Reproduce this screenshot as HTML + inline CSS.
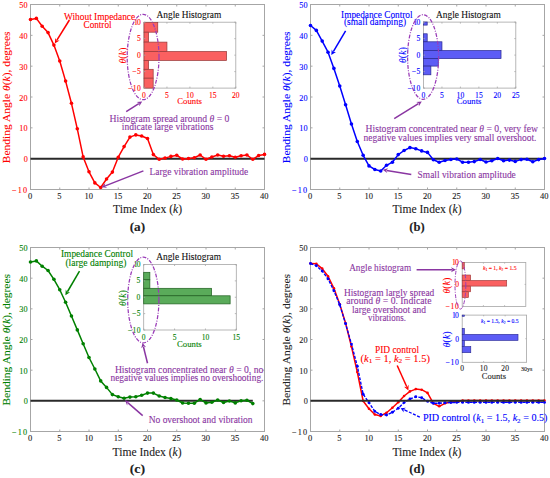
<!DOCTYPE html><html><head><meta charset="utf-8"><style>html,body{margin:0;padding:0;background:#fff;width:550px;height:478px;overflow:hidden}</style></head><body><svg width="550" height="478" viewBox="0 0 550 478" style="position:absolute;left:0;top:0" font-family='"Liberation Serif", serif'>
<rect width="550" height="478" fill="#fff"/>
<rect x="30.5" y="4.5" width="234.00" height="185.00" fill="none" stroke="#a6a6a6" stroke-width="1"/>
<line x1="30.50" y1="189.5" x2="30.50" y2="187.5" stroke="#a6a6a6" stroke-width="1"/>
<line x1="30.50" y1="4.5" x2="30.50" y2="6.5" stroke="#a6a6a6" stroke-width="1"/>
<text x="30.20" y="198.90" font-size="8.5" fill="#222222" stroke="#222222" stroke-width="0.1" text-anchor="middle">0</text>
<line x1="59.75" y1="189.5" x2="59.75" y2="187.5" stroke="#a6a6a6" stroke-width="1"/>
<line x1="59.75" y1="4.5" x2="59.75" y2="6.5" stroke="#a6a6a6" stroke-width="1"/>
<text x="59.45" y="198.90" font-size="8.5" fill="#222222" stroke="#222222" stroke-width="0.1" text-anchor="middle">5</text>
<line x1="89.00" y1="189.5" x2="89.00" y2="187.5" stroke="#a6a6a6" stroke-width="1"/>
<line x1="89.00" y1="4.5" x2="89.00" y2="6.5" stroke="#a6a6a6" stroke-width="1"/>
<text x="88.70" y="198.90" font-size="8.5" fill="#222222" stroke="#222222" stroke-width="0.1" text-anchor="middle">10</text>
<line x1="118.25" y1="189.5" x2="118.25" y2="187.5" stroke="#a6a6a6" stroke-width="1"/>
<line x1="118.25" y1="4.5" x2="118.25" y2="6.5" stroke="#a6a6a6" stroke-width="1"/>
<text x="117.95" y="198.90" font-size="8.5" fill="#222222" stroke="#222222" stroke-width="0.1" text-anchor="middle">15</text>
<line x1="147.50" y1="189.5" x2="147.50" y2="187.5" stroke="#a6a6a6" stroke-width="1"/>
<line x1="147.50" y1="4.5" x2="147.50" y2="6.5" stroke="#a6a6a6" stroke-width="1"/>
<text x="147.20" y="198.90" font-size="8.5" fill="#222222" stroke="#222222" stroke-width="0.1" text-anchor="middle">20</text>
<line x1="176.75" y1="189.5" x2="176.75" y2="187.5" stroke="#a6a6a6" stroke-width="1"/>
<line x1="176.75" y1="4.5" x2="176.75" y2="6.5" stroke="#a6a6a6" stroke-width="1"/>
<text x="176.45" y="198.90" font-size="8.5" fill="#222222" stroke="#222222" stroke-width="0.1" text-anchor="middle">25</text>
<line x1="206.00" y1="189.5" x2="206.00" y2="187.5" stroke="#a6a6a6" stroke-width="1"/>
<line x1="206.00" y1="4.5" x2="206.00" y2="6.5" stroke="#a6a6a6" stroke-width="1"/>
<text x="205.70" y="198.90" font-size="8.5" fill="#222222" stroke="#222222" stroke-width="0.1" text-anchor="middle">30</text>
<line x1="235.25" y1="189.5" x2="235.25" y2="187.5" stroke="#a6a6a6" stroke-width="1"/>
<line x1="235.25" y1="4.5" x2="235.25" y2="6.5" stroke="#a6a6a6" stroke-width="1"/>
<text x="234.95" y="198.90" font-size="8.5" fill="#222222" stroke="#222222" stroke-width="0.1" text-anchor="middle">35</text>
<line x1="264.50" y1="189.5" x2="264.50" y2="187.5" stroke="#a6a6a6" stroke-width="1"/>
<line x1="264.50" y1="4.5" x2="264.50" y2="6.5" stroke="#a6a6a6" stroke-width="1"/>
<text x="264.20" y="198.90" font-size="8.5" fill="#222222" stroke="#222222" stroke-width="0.1" text-anchor="middle">40</text>
<line x1="30.5" y1="189.50" x2="32.5" y2="189.50" stroke="#a6a6a6" stroke-width="1"/>
<line x1="264.5" y1="189.50" x2="262.5" y2="189.50" stroke="#a6a6a6" stroke-width="1"/>
<text x="12.10" y="193.00" font-size="8.2" fill="#ff0000" stroke="#ff0000" stroke-width="0.1" textLength="15" lengthAdjust="spacing">−10</text>
<line x1="30.5" y1="158.67" x2="32.5" y2="158.67" stroke="#a6a6a6" stroke-width="1"/>
<line x1="264.5" y1="158.67" x2="262.5" y2="158.67" stroke="#a6a6a6" stroke-width="1"/>
<text x="23.70" y="162.17" font-size="8.2" fill="#ff0000" stroke="#ff0000" stroke-width="0.1" textLength="4.4" lengthAdjust="spacing">0</text>
<line x1="30.5" y1="127.83" x2="32.5" y2="127.83" stroke="#a6a6a6" stroke-width="1"/>
<line x1="264.5" y1="127.83" x2="262.5" y2="127.83" stroke="#a6a6a6" stroke-width="1"/>
<text x="19.30" y="131.33" font-size="8.2" fill="#ff0000" stroke="#ff0000" stroke-width="0.1" textLength="8.2" lengthAdjust="spacing">10</text>
<line x1="30.5" y1="97.00" x2="32.5" y2="97.00" stroke="#a6a6a6" stroke-width="1"/>
<line x1="264.5" y1="97.00" x2="262.5" y2="97.00" stroke="#a6a6a6" stroke-width="1"/>
<text x="19.30" y="100.50" font-size="8.2" fill="#ff0000" stroke="#ff0000" stroke-width="0.1" textLength="8.2" lengthAdjust="spacing">20</text>
<line x1="30.5" y1="66.17" x2="32.5" y2="66.17" stroke="#a6a6a6" stroke-width="1"/>
<line x1="264.5" y1="66.17" x2="262.5" y2="66.17" stroke="#a6a6a6" stroke-width="1"/>
<text x="19.30" y="69.67" font-size="8.2" fill="#ff0000" stroke="#ff0000" stroke-width="0.1" textLength="8.2" lengthAdjust="spacing">30</text>
<line x1="30.5" y1="35.33" x2="32.5" y2="35.33" stroke="#a6a6a6" stroke-width="1"/>
<line x1="264.5" y1="35.33" x2="262.5" y2="35.33" stroke="#a6a6a6" stroke-width="1"/>
<text x="19.30" y="38.83" font-size="8.2" fill="#ff0000" stroke="#ff0000" stroke-width="0.1" textLength="8.2" lengthAdjust="spacing">40</text>
<line x1="30.5" y1="4.50" x2="32.5" y2="4.50" stroke="#a6a6a6" stroke-width="1"/>
<line x1="264.5" y1="4.50" x2="262.5" y2="4.50" stroke="#a6a6a6" stroke-width="1"/>
<text x="19.30" y="8.00" font-size="8.2" fill="#ff0000" stroke="#ff0000" stroke-width="0.1" textLength="8.2" lengthAdjust="spacing">50</text>
<line x1="30.5" y1="158.85" x2="264.50" y2="158.85" stroke="#2a2a2a" stroke-width="2"/>
<polyline points="30.50,19.50 36.35,18.40 42.20,26.20 48.05,32.60 53.90,45.10 59.75,61.00 65.60,81.10 71.45,103.30 77.30,128.80 83.15,156.90 89.00,171.80 94.85,182.90 100.70,187.50 106.55,179.00 112.40,172.10 118.25,157.20 124.10,146.60 129.95,137.10 135.80,134.90 141.65,136.00 147.50,138.50 153.35,154.60 159.20,159.30 165.05,158.10 170.90,156.40 176.75,155.30 182.60,159.00 188.45,158.50 194.30,157.70 200.15,155.00 206.00,159.30 211.85,157.00 217.70,155.00 223.55,156.20 229.40,155.80 235.25,157.30 241.10,155.80 246.95,155.00 252.80,159.30 258.65,155.50 264.50,154.40" fill="none" stroke="#ff0000" stroke-width="1.5" stroke-linejoin="round"/>
<circle cx="30.50" cy="19.50" r="1.8" fill="#ff0000"/>
<circle cx="36.35" cy="18.40" r="1.8" fill="#ff0000"/>
<circle cx="42.20" cy="26.20" r="1.8" fill="#ff0000"/>
<circle cx="48.05" cy="32.60" r="1.8" fill="#ff0000"/>
<circle cx="53.90" cy="45.10" r="1.8" fill="#ff0000"/>
<circle cx="59.75" cy="61.00" r="1.8" fill="#ff0000"/>
<circle cx="65.60" cy="81.10" r="1.8" fill="#ff0000"/>
<circle cx="71.45" cy="103.30" r="1.8" fill="#ff0000"/>
<circle cx="77.30" cy="128.80" r="1.8" fill="#ff0000"/>
<circle cx="83.15" cy="156.90" r="1.8" fill="#ff0000"/>
<circle cx="89.00" cy="171.80" r="1.8" fill="#ff0000"/>
<circle cx="94.85" cy="182.90" r="1.8" fill="#ff0000"/>
<circle cx="100.70" cy="187.50" r="1.8" fill="#ff0000"/>
<circle cx="106.55" cy="179.00" r="1.8" fill="#ff0000"/>
<circle cx="112.40" cy="172.10" r="1.8" fill="#ff0000"/>
<circle cx="118.25" cy="157.20" r="1.8" fill="#ff0000"/>
<circle cx="124.10" cy="146.60" r="1.8" fill="#ff0000"/>
<circle cx="129.95" cy="137.10" r="1.8" fill="#ff0000"/>
<circle cx="135.80" cy="134.90" r="1.8" fill="#ff0000"/>
<circle cx="141.65" cy="136.00" r="1.8" fill="#ff0000"/>
<circle cx="147.50" cy="138.50" r="1.8" fill="#ff0000"/>
<circle cx="153.35" cy="154.60" r="1.8" fill="#ff0000"/>
<circle cx="159.20" cy="159.30" r="1.8" fill="#ff0000"/>
<circle cx="165.05" cy="158.10" r="1.8" fill="#ff0000"/>
<circle cx="170.90" cy="156.40" r="1.8" fill="#ff0000"/>
<circle cx="176.75" cy="155.30" r="1.8" fill="#ff0000"/>
<circle cx="182.60" cy="159.00" r="1.8" fill="#ff0000"/>
<circle cx="188.45" cy="158.50" r="1.8" fill="#ff0000"/>
<circle cx="194.30" cy="157.70" r="1.8" fill="#ff0000"/>
<circle cx="200.15" cy="155.00" r="1.8" fill="#ff0000"/>
<circle cx="206.00" cy="159.30" r="1.8" fill="#ff0000"/>
<circle cx="211.85" cy="157.00" r="1.8" fill="#ff0000"/>
<circle cx="217.70" cy="155.00" r="1.8" fill="#ff0000"/>
<circle cx="223.55" cy="156.20" r="1.8" fill="#ff0000"/>
<circle cx="229.40" cy="155.80" r="1.8" fill="#ff0000"/>
<circle cx="235.25" cy="157.30" r="1.8" fill="#ff0000"/>
<circle cx="241.10" cy="155.80" r="1.8" fill="#ff0000"/>
<circle cx="246.95" cy="155.00" r="1.8" fill="#ff0000"/>
<circle cx="252.80" cy="159.30" r="1.8" fill="#ff0000"/>
<circle cx="258.65" cy="155.50" r="1.8" fill="#ff0000"/>
<circle cx="264.50" cy="154.40" r="1.8" fill="#ff0000"/>
<text transform="translate(9.8,163.2) rotate(-90)" font-size="11.4" fill="#ff0000" stroke="#ff0000" stroke-width="0.1" textLength="131.70" lengthAdjust="spacing">Bending Angle <tspan font-style="italic">θ</tspan>(<tspan font-style="italic">k</tspan>), degrees</text>
<text x="113.00" y="213.20" font-size="12" fill="#222222" stroke="#222222" stroke-width="0.1" textLength="69.00" lengthAdjust="spacingAndGlyphs">Time Index (<tspan font-style="italic">k</tspan>)</text>
<text x="129.70" y="230.80" font-size="13.2" fill="#222222" stroke="#222222" stroke-width="0.1" textLength="15.50" lengthAdjust="spacingAndGlyphs" font-weight="bold">(a)</text>
<rect x="144.0" y="22.2" width="91.80" height="65.90" fill="#fff" stroke="#a6a6a6" stroke-width="0.8"/>
<rect x="144.0" y="22.5" width="13.77" height="9.70" fill="#fa6060" stroke="#963838" stroke-width="0.7"/>
<rect x="144.0" y="32.2" width="4.59" height="9.90" fill="#fa6060" stroke="#963838" stroke-width="0.7"/>
<rect x="144.0" y="42.1" width="22.95" height="9.40" fill="#fa6060" stroke="#963838" stroke-width="0.7"/>
<rect x="144.0" y="51.5" width="82.62" height="9.00" fill="#fa6060" stroke="#963838" stroke-width="0.7"/>
<rect x="144.0" y="60.5" width="4.59" height="8.80" fill="#fa6060" stroke="#963838" stroke-width="0.7"/>
<rect x="144.0" y="69.3" width="9.18" height="8.90" fill="#fa6060" stroke="#963838" stroke-width="0.7"/>
<rect x="144.0" y="78.2" width="9.18" height="9.90" fill="#fa6060" stroke="#963838" stroke-width="0.7"/>
<line x1="144.00" y1="88.1" x2="144.00" y2="86.6" stroke="#a6a6a6" stroke-width="0.8"/>
<line x1="144.00" y1="22.2" x2="144.00" y2="23.7" stroke="#a6a6a6" stroke-width="0.8"/>
<text x="144.00" y="97.5" font-size="7.6" fill="#ff0000" stroke="#ff0000" stroke-width="0.1" text-anchor="middle">0</text>
<line x1="166.95" y1="88.1" x2="166.95" y2="86.6" stroke="#a6a6a6" stroke-width="0.8"/>
<line x1="166.95" y1="22.2" x2="166.95" y2="23.7" stroke="#a6a6a6" stroke-width="0.8"/>
<text x="166.95" y="97.5" font-size="7.6" fill="#ff0000" stroke="#ff0000" stroke-width="0.1" text-anchor="middle">5</text>
<line x1="189.90" y1="88.1" x2="189.90" y2="86.6" stroke="#a6a6a6" stroke-width="0.8"/>
<line x1="189.90" y1="22.2" x2="189.90" y2="23.7" stroke="#a6a6a6" stroke-width="0.8"/>
<text x="189.90" y="97.5" font-size="7.6" fill="#ff0000" stroke="#ff0000" stroke-width="0.1" text-anchor="middle">10</text>
<line x1="212.85" y1="88.1" x2="212.85" y2="86.6" stroke="#a6a6a6" stroke-width="0.8"/>
<line x1="212.85" y1="22.2" x2="212.85" y2="23.7" stroke="#a6a6a6" stroke-width="0.8"/>
<text x="212.85" y="97.5" font-size="7.6" fill="#ff0000" stroke="#ff0000" stroke-width="0.1" text-anchor="middle">15</text>
<line x1="235.80" y1="88.1" x2="235.80" y2="86.6" stroke="#a6a6a6" stroke-width="0.8"/>
<line x1="235.80" y1="22.2" x2="235.80" y2="23.7" stroke="#a6a6a6" stroke-width="0.8"/>
<text x="235.80" y="97.5" font-size="7.6" fill="#ff0000" stroke="#ff0000" stroke-width="0.1" text-anchor="middle">20</text>
<line x1="235.8" y1="22.20" x2="234.3" y2="22.20" stroke="#a6a6a6" stroke-width="0.8"/>
<line x1="144.0" y1="22.20" x2="145.5" y2="22.20" stroke="#a6a6a6" stroke-width="0.8"/>
<text x="134.00" y="24.80" font-size="7.6" fill="#ff0000" stroke="#ff0000" stroke-width="0.1" textLength="6.8" lengthAdjust="spacing">10</text>
<line x1="235.8" y1="38.67" x2="234.3" y2="38.67" stroke="#a6a6a6" stroke-width="0.8"/>
<line x1="144.0" y1="38.67" x2="145.5" y2="38.67" stroke="#a6a6a6" stroke-width="0.8"/>
<text x="136.90" y="41.27" font-size="7.6" fill="#ff0000" stroke="#ff0000" stroke-width="0.1" textLength="3.9" lengthAdjust="spacing">5</text>
<line x1="235.8" y1="55.15" x2="234.3" y2="55.15" stroke="#a6a6a6" stroke-width="0.8"/>
<line x1="144.0" y1="55.15" x2="145.5" y2="55.15" stroke="#a6a6a6" stroke-width="0.8"/>
<text x="136.90" y="57.75" font-size="7.6" fill="#ff0000" stroke="#ff0000" stroke-width="0.1" textLength="3.9" lengthAdjust="spacing">0</text>
<line x1="235.8" y1="71.62" x2="234.3" y2="71.62" stroke="#a6a6a6" stroke-width="0.8"/>
<line x1="144.0" y1="71.62" x2="145.5" y2="71.62" stroke="#a6a6a6" stroke-width="0.8"/>
<text x="132.20" y="74.22" font-size="7.6" fill="#ff0000" stroke="#ff0000" stroke-width="0.1" textLength="8.6" lengthAdjust="spacing">−5</text>
<line x1="235.8" y1="88.10" x2="234.3" y2="88.10" stroke="#a6a6a6" stroke-width="0.8"/>
<line x1="144.0" y1="88.10" x2="145.5" y2="88.10" stroke="#a6a6a6" stroke-width="0.8"/>
<text x="128.00" y="90.70" font-size="7.6" fill="#ff0000" stroke="#ff0000" stroke-width="0.1" textLength="12.8" lengthAdjust="spacing">−10</text>
<text transform="translate(126.2,63.6) rotate(-90)" font-size="9.5" fill="#ff0000" stroke="#ff0000" stroke-width="0.1" text-anchor="start" textLength="16" lengthAdjust="spacing"><tspan font-style="italic">θ</tspan>(<tspan font-style="italic">k</tspan>)</text>
<text x="156.50" y="18.20" font-size="9.6" fill="#111" stroke="#111" stroke-width="0.1" textLength="64.80" lengthAdjust="spacingAndGlyphs">Angle Histogram</text>
<text x="177.30" y="104.20" font-size="9.2" fill="#ff0000" stroke="#ff0000" stroke-width="0.1" textLength="24.70" lengthAdjust="spacingAndGlyphs">Counts</text>
<ellipse cx="143.1" cy="57" rx="15.9" ry="42.7" fill="none" stroke="#9a3cb8" stroke-width="1.25" stroke-dasharray="3.8,1.4,1,1.4"/>
<text x="64.00" y="20.10" font-size="9.3" fill="#ff0000" stroke="#ff0000" stroke-width="0.1" textLength="71.20" lengthAdjust="spacingAndGlyphs">Wihout Impedance</text>
<text x="83.60" y="28.30" font-size="9.3" fill="#ff0000" stroke="#ff0000" stroke-width="0.1" textLength="27.90" lengthAdjust="spacingAndGlyphs">Control</text>
<line x1="69.40" y1="20.00" x2="56.91" y2="40.10" stroke="#ff0000" stroke-width="1.5"/>
<polygon points="54.80,43.50 55.32,37.93 56.65,40.53 59.56,40.57" fill="#ff0000"/>
<text x="109.50" y="121.50" font-size="9.3" fill="#8a36a2" stroke="#8a36a2" stroke-width="0.1" textLength="119.90" lengthAdjust="spacingAndGlyphs">Histogram spread around <tspan font-style="italic">θ</tspan> = 0</text>
<text x="121.80" y="129.50" font-size="9.3" fill="#8a36a2" stroke="#8a36a2" stroke-width="0.1" textLength="91.60" lengthAdjust="spacingAndGlyphs">indicate large vibrations</text>
<line x1="126.20" y1="111.60" x2="138.82" y2="103.64" stroke="#8a36a2" stroke-width="1.5"/>
<polygon points="142.20,101.50 139.31,106.28 139.24,103.37 136.64,102.05" fill="#8a36a2"/>
<text x="149.50" y="174.90" font-size="9.3" fill="#8a36a2" stroke="#8a36a2" stroke-width="0.1" textLength="98.70" lengthAdjust="spacingAndGlyphs">Large vibration amplitude</text>
<line x1="143.40" y1="170.90" x2="105.22" y2="185.84" stroke="#8a36a2" stroke-width="1.5"/>
<polygon points="101.50,187.30 105.24,183.15 104.76,186.02 107.07,187.81" fill="#8a36a2"/>
<rect x="310.5" y="4.5" width="234.00" height="185.00" fill="none" stroke="#a6a6a6" stroke-width="1"/>
<line x1="310.50" y1="189.5" x2="310.50" y2="187.5" stroke="#a6a6a6" stroke-width="1"/>
<line x1="310.50" y1="4.5" x2="310.50" y2="6.5" stroke="#a6a6a6" stroke-width="1"/>
<text x="310.20" y="198.90" font-size="8.5" fill="#222222" stroke="#222222" stroke-width="0.1" text-anchor="middle">0</text>
<line x1="339.75" y1="189.5" x2="339.75" y2="187.5" stroke="#a6a6a6" stroke-width="1"/>
<line x1="339.75" y1="4.5" x2="339.75" y2="6.5" stroke="#a6a6a6" stroke-width="1"/>
<text x="339.45" y="198.90" font-size="8.5" fill="#222222" stroke="#222222" stroke-width="0.1" text-anchor="middle">5</text>
<line x1="369.00" y1="189.5" x2="369.00" y2="187.5" stroke="#a6a6a6" stroke-width="1"/>
<line x1="369.00" y1="4.5" x2="369.00" y2="6.5" stroke="#a6a6a6" stroke-width="1"/>
<text x="368.70" y="198.90" font-size="8.5" fill="#222222" stroke="#222222" stroke-width="0.1" text-anchor="middle">10</text>
<line x1="398.25" y1="189.5" x2="398.25" y2="187.5" stroke="#a6a6a6" stroke-width="1"/>
<line x1="398.25" y1="4.5" x2="398.25" y2="6.5" stroke="#a6a6a6" stroke-width="1"/>
<text x="397.95" y="198.90" font-size="8.5" fill="#222222" stroke="#222222" stroke-width="0.1" text-anchor="middle">15</text>
<line x1="427.50" y1="189.5" x2="427.50" y2="187.5" stroke="#a6a6a6" stroke-width="1"/>
<line x1="427.50" y1="4.5" x2="427.50" y2="6.5" stroke="#a6a6a6" stroke-width="1"/>
<text x="427.20" y="198.90" font-size="8.5" fill="#222222" stroke="#222222" stroke-width="0.1" text-anchor="middle">20</text>
<line x1="456.75" y1="189.5" x2="456.75" y2="187.5" stroke="#a6a6a6" stroke-width="1"/>
<line x1="456.75" y1="4.5" x2="456.75" y2="6.5" stroke="#a6a6a6" stroke-width="1"/>
<text x="456.45" y="198.90" font-size="8.5" fill="#222222" stroke="#222222" stroke-width="0.1" text-anchor="middle">25</text>
<line x1="486.00" y1="189.5" x2="486.00" y2="187.5" stroke="#a6a6a6" stroke-width="1"/>
<line x1="486.00" y1="4.5" x2="486.00" y2="6.5" stroke="#a6a6a6" stroke-width="1"/>
<text x="485.70" y="198.90" font-size="8.5" fill="#222222" stroke="#222222" stroke-width="0.1" text-anchor="middle">30</text>
<line x1="515.25" y1="189.5" x2="515.25" y2="187.5" stroke="#a6a6a6" stroke-width="1"/>
<line x1="515.25" y1="4.5" x2="515.25" y2="6.5" stroke="#a6a6a6" stroke-width="1"/>
<text x="514.95" y="198.90" font-size="8.5" fill="#222222" stroke="#222222" stroke-width="0.1" text-anchor="middle">35</text>
<line x1="544.50" y1="189.5" x2="544.50" y2="187.5" stroke="#a6a6a6" stroke-width="1"/>
<line x1="544.50" y1="4.5" x2="544.50" y2="6.5" stroke="#a6a6a6" stroke-width="1"/>
<text x="544.20" y="198.90" font-size="8.5" fill="#222222" stroke="#222222" stroke-width="0.1" text-anchor="middle">40</text>
<line x1="310.5" y1="189.50" x2="312.5" y2="189.50" stroke="#a6a6a6" stroke-width="1"/>
<line x1="544.5" y1="189.50" x2="542.5" y2="189.50" stroke="#a6a6a6" stroke-width="1"/>
<text x="292.10" y="193.00" font-size="8.2" fill="#0000ff" stroke="#0000ff" stroke-width="0.1" textLength="15" lengthAdjust="spacing">−10</text>
<line x1="310.5" y1="158.67" x2="312.5" y2="158.67" stroke="#a6a6a6" stroke-width="1"/>
<line x1="544.5" y1="158.67" x2="542.5" y2="158.67" stroke="#a6a6a6" stroke-width="1"/>
<text x="303.70" y="162.17" font-size="8.2" fill="#0000ff" stroke="#0000ff" stroke-width="0.1" textLength="4.4" lengthAdjust="spacing">0</text>
<line x1="310.5" y1="127.83" x2="312.5" y2="127.83" stroke="#a6a6a6" stroke-width="1"/>
<line x1="544.5" y1="127.83" x2="542.5" y2="127.83" stroke="#a6a6a6" stroke-width="1"/>
<text x="299.30" y="131.33" font-size="8.2" fill="#0000ff" stroke="#0000ff" stroke-width="0.1" textLength="8.2" lengthAdjust="spacing">10</text>
<line x1="310.5" y1="97.00" x2="312.5" y2="97.00" stroke="#a6a6a6" stroke-width="1"/>
<line x1="544.5" y1="97.00" x2="542.5" y2="97.00" stroke="#a6a6a6" stroke-width="1"/>
<text x="299.30" y="100.50" font-size="8.2" fill="#0000ff" stroke="#0000ff" stroke-width="0.1" textLength="8.2" lengthAdjust="spacing">20</text>
<line x1="310.5" y1="66.17" x2="312.5" y2="66.17" stroke="#a6a6a6" stroke-width="1"/>
<line x1="544.5" y1="66.17" x2="542.5" y2="66.17" stroke="#a6a6a6" stroke-width="1"/>
<text x="299.30" y="69.67" font-size="8.2" fill="#0000ff" stroke="#0000ff" stroke-width="0.1" textLength="8.2" lengthAdjust="spacing">30</text>
<line x1="310.5" y1="35.33" x2="312.5" y2="35.33" stroke="#a6a6a6" stroke-width="1"/>
<line x1="544.5" y1="35.33" x2="542.5" y2="35.33" stroke="#a6a6a6" stroke-width="1"/>
<text x="299.30" y="38.83" font-size="8.2" fill="#0000ff" stroke="#0000ff" stroke-width="0.1" textLength="8.2" lengthAdjust="spacing">40</text>
<line x1="310.5" y1="4.50" x2="312.5" y2="4.50" stroke="#a6a6a6" stroke-width="1"/>
<line x1="544.5" y1="4.50" x2="542.5" y2="4.50" stroke="#a6a6a6" stroke-width="1"/>
<text x="299.30" y="8.00" font-size="8.2" fill="#0000ff" stroke="#0000ff" stroke-width="0.1" textLength="8.2" lengthAdjust="spacing">50</text>
<line x1="310.5" y1="158.85" x2="544.50" y2="158.85" stroke="#2a2a2a" stroke-width="2"/>
<polyline points="310.50,25.50 316.35,30.40 322.20,41.10 328.05,52.20 333.90,68.40 339.75,86.00 345.60,104.70 351.45,124.00 357.30,141.50 363.15,155.30 369.00,165.90 374.85,169.50 380.70,171.00 386.55,165.30 392.40,162.20 398.25,154.60 404.10,150.50 409.95,147.60 415.80,148.70 421.65,150.90 427.50,152.40 433.35,159.80 439.20,162.20 445.05,160.50 450.90,159.50 456.75,159.00 462.60,162.20 468.45,162.20 474.30,161.60 480.15,159.50 486.00,162.00 491.85,160.70 497.70,158.50 503.55,160.70 509.40,160.10 515.25,161.40 521.10,159.60 526.95,159.20 532.80,161.80 538.65,159.60 544.50,158.50" fill="none" stroke="#0000ff" stroke-width="1.5" stroke-linejoin="round"/>
<circle cx="310.50" cy="25.50" r="1.8" fill="#0000ff"/>
<circle cx="316.35" cy="30.40" r="1.8" fill="#0000ff"/>
<circle cx="322.20" cy="41.10" r="1.8" fill="#0000ff"/>
<circle cx="328.05" cy="52.20" r="1.8" fill="#0000ff"/>
<circle cx="333.90" cy="68.40" r="1.8" fill="#0000ff"/>
<circle cx="339.75" cy="86.00" r="1.8" fill="#0000ff"/>
<circle cx="345.60" cy="104.70" r="1.8" fill="#0000ff"/>
<circle cx="351.45" cy="124.00" r="1.8" fill="#0000ff"/>
<circle cx="357.30" cy="141.50" r="1.8" fill="#0000ff"/>
<circle cx="363.15" cy="155.30" r="1.8" fill="#0000ff"/>
<circle cx="369.00" cy="165.90" r="1.8" fill="#0000ff"/>
<circle cx="374.85" cy="169.50" r="1.8" fill="#0000ff"/>
<circle cx="380.70" cy="171.00" r="1.8" fill="#0000ff"/>
<circle cx="386.55" cy="165.30" r="1.8" fill="#0000ff"/>
<circle cx="392.40" cy="162.20" r="1.8" fill="#0000ff"/>
<circle cx="398.25" cy="154.60" r="1.8" fill="#0000ff"/>
<circle cx="404.10" cy="150.50" r="1.8" fill="#0000ff"/>
<circle cx="409.95" cy="147.60" r="1.8" fill="#0000ff"/>
<circle cx="415.80" cy="148.70" r="1.8" fill="#0000ff"/>
<circle cx="421.65" cy="150.90" r="1.8" fill="#0000ff"/>
<circle cx="427.50" cy="152.40" r="1.8" fill="#0000ff"/>
<circle cx="433.35" cy="159.80" r="1.8" fill="#0000ff"/>
<circle cx="439.20" cy="162.20" r="1.8" fill="#0000ff"/>
<circle cx="445.05" cy="160.50" r="1.8" fill="#0000ff"/>
<circle cx="450.90" cy="159.50" r="1.8" fill="#0000ff"/>
<circle cx="456.75" cy="159.00" r="1.8" fill="#0000ff"/>
<circle cx="462.60" cy="162.20" r="1.8" fill="#0000ff"/>
<circle cx="468.45" cy="162.20" r="1.8" fill="#0000ff"/>
<circle cx="474.30" cy="161.60" r="1.8" fill="#0000ff"/>
<circle cx="480.15" cy="159.50" r="1.8" fill="#0000ff"/>
<circle cx="486.00" cy="162.00" r="1.8" fill="#0000ff"/>
<circle cx="491.85" cy="160.70" r="1.8" fill="#0000ff"/>
<circle cx="497.70" cy="158.50" r="1.8" fill="#0000ff"/>
<circle cx="503.55" cy="160.70" r="1.8" fill="#0000ff"/>
<circle cx="509.40" cy="160.10" r="1.8" fill="#0000ff"/>
<circle cx="515.25" cy="161.40" r="1.8" fill="#0000ff"/>
<circle cx="521.10" cy="159.60" r="1.8" fill="#0000ff"/>
<circle cx="526.95" cy="159.20" r="1.8" fill="#0000ff"/>
<circle cx="532.80" cy="161.80" r="1.8" fill="#0000ff"/>
<circle cx="538.65" cy="159.60" r="1.8" fill="#0000ff"/>
<circle cx="544.50" cy="158.50" r="1.8" fill="#0000ff"/>
<text transform="translate(289.8,163.2) rotate(-90)" font-size="11.4" fill="#0000ff" stroke="#0000ff" stroke-width="0.1" textLength="131.70" lengthAdjust="spacing">Bending Angle <tspan font-style="italic">θ</tspan>(<tspan font-style="italic">k</tspan>), degrees</text>
<text x="392.60" y="213.30" font-size="12" fill="#222222" stroke="#222222" stroke-width="0.1" textLength="69.00" lengthAdjust="spacingAndGlyphs">Time Index (<tspan font-style="italic">k</tspan>)</text>
<text x="409.20" y="230.70" font-size="13.2" fill="#222222" stroke="#222222" stroke-width="0.1" textLength="15.50" lengthAdjust="spacingAndGlyphs" font-weight="bold">(b)</text>
<rect x="423.5" y="22.1" width="92.30" height="66.00" fill="#fff" stroke="#a6a6a6" stroke-width="0.8"/>
<rect x="423.5" y="22.0" width="3.69" height="3.10" fill="#5c5cf5" stroke="#282890" stroke-width="0.7"/>
<rect x="423.5" y="33.8" width="3.69" height="8.00" fill="#5c5cf5" stroke="#282890" stroke-width="0.7"/>
<rect x="423.5" y="41.8" width="18.46" height="8.70" fill="#5c5cf5" stroke="#282890" stroke-width="0.7"/>
<rect x="423.5" y="50.5" width="77.53" height="8.10" fill="#5c5cf5" stroke="#282890" stroke-width="0.7"/>
<rect x="423.5" y="58.6" width="14.77" height="7.50" fill="#5c5cf5" stroke="#282890" stroke-width="0.7"/>
<rect x="423.5" y="66.1" width="7.38" height="8.70" fill="#5c5cf5" stroke="#282890" stroke-width="0.7"/>
<line x1="423.50" y1="88.1" x2="423.50" y2="86.6" stroke="#a6a6a6" stroke-width="0.8"/>
<line x1="423.50" y1="22.1" x2="423.50" y2="23.6" stroke="#a6a6a6" stroke-width="0.8"/>
<text x="423.50" y="97.5" font-size="7.6" fill="#0000ff" stroke="#0000ff" stroke-width="0.1" text-anchor="middle">0</text>
<line x1="441.96" y1="88.1" x2="441.96" y2="86.6" stroke="#a6a6a6" stroke-width="0.8"/>
<line x1="441.96" y1="22.1" x2="441.96" y2="23.6" stroke="#a6a6a6" stroke-width="0.8"/>
<text x="441.96" y="97.5" font-size="7.6" fill="#0000ff" stroke="#0000ff" stroke-width="0.1" text-anchor="middle">5</text>
<line x1="460.42" y1="88.1" x2="460.42" y2="86.6" stroke="#a6a6a6" stroke-width="0.8"/>
<line x1="460.42" y1="22.1" x2="460.42" y2="23.6" stroke="#a6a6a6" stroke-width="0.8"/>
<text x="460.42" y="97.5" font-size="7.6" fill="#0000ff" stroke="#0000ff" stroke-width="0.1" text-anchor="middle">10</text>
<line x1="478.88" y1="88.1" x2="478.88" y2="86.6" stroke="#a6a6a6" stroke-width="0.8"/>
<line x1="478.88" y1="22.1" x2="478.88" y2="23.6" stroke="#a6a6a6" stroke-width="0.8"/>
<text x="478.88" y="97.5" font-size="7.6" fill="#0000ff" stroke="#0000ff" stroke-width="0.1" text-anchor="middle">15</text>
<line x1="497.34" y1="88.1" x2="497.34" y2="86.6" stroke="#a6a6a6" stroke-width="0.8"/>
<line x1="497.34" y1="22.1" x2="497.34" y2="23.6" stroke="#a6a6a6" stroke-width="0.8"/>
<text x="497.34" y="97.5" font-size="7.6" fill="#0000ff" stroke="#0000ff" stroke-width="0.1" text-anchor="middle">20</text>
<line x1="515.80" y1="88.1" x2="515.80" y2="86.6" stroke="#a6a6a6" stroke-width="0.8"/>
<line x1="515.80" y1="22.1" x2="515.80" y2="23.6" stroke="#a6a6a6" stroke-width="0.8"/>
<text x="515.80" y="97.5" font-size="7.6" fill="#0000ff" stroke="#0000ff" stroke-width="0.1" text-anchor="middle">25</text>
<line x1="515.8" y1="22.10" x2="514.3" y2="22.10" stroke="#a6a6a6" stroke-width="0.8"/>
<line x1="423.5" y1="22.10" x2="425.0" y2="22.10" stroke="#a6a6a6" stroke-width="0.8"/>
<text x="413.50" y="24.70" font-size="7.6" fill="#0000ff" stroke="#0000ff" stroke-width="0.1" textLength="6.8" lengthAdjust="spacing">10</text>
<line x1="515.8" y1="38.60" x2="514.3" y2="38.60" stroke="#a6a6a6" stroke-width="0.8"/>
<line x1="423.5" y1="38.60" x2="425.0" y2="38.60" stroke="#a6a6a6" stroke-width="0.8"/>
<text x="416.40" y="41.20" font-size="7.6" fill="#0000ff" stroke="#0000ff" stroke-width="0.1" textLength="3.9" lengthAdjust="spacing">5</text>
<line x1="515.8" y1="55.10" x2="514.3" y2="55.10" stroke="#a6a6a6" stroke-width="0.8"/>
<line x1="423.5" y1="55.10" x2="425.0" y2="55.10" stroke="#a6a6a6" stroke-width="0.8"/>
<text x="416.40" y="57.70" font-size="7.6" fill="#0000ff" stroke="#0000ff" stroke-width="0.1" textLength="3.9" lengthAdjust="spacing">0</text>
<line x1="515.8" y1="71.60" x2="514.3" y2="71.60" stroke="#a6a6a6" stroke-width="0.8"/>
<line x1="423.5" y1="71.60" x2="425.0" y2="71.60" stroke="#a6a6a6" stroke-width="0.8"/>
<text x="411.70" y="74.20" font-size="7.6" fill="#0000ff" stroke="#0000ff" stroke-width="0.1" textLength="8.6" lengthAdjust="spacing">−5</text>
<line x1="515.8" y1="88.10" x2="514.3" y2="88.10" stroke="#a6a6a6" stroke-width="0.8"/>
<line x1="423.5" y1="88.10" x2="425.0" y2="88.10" stroke="#a6a6a6" stroke-width="0.8"/>
<text x="407.50" y="90.70" font-size="7.6" fill="#0000ff" stroke="#0000ff" stroke-width="0.1" textLength="12.8" lengthAdjust="spacing">−10</text>
<text transform="translate(406,63.1) rotate(-90)" font-size="9.5" fill="#0000ff" stroke="#0000ff" stroke-width="0.1" text-anchor="start" textLength="16" lengthAdjust="spacing"><tspan font-style="italic">θ</tspan>(<tspan font-style="italic">k</tspan>)</text>
<text x="436.00" y="18.20" font-size="9.6" fill="#111" stroke="#111" stroke-width="0.1" textLength="64.80" lengthAdjust="spacingAndGlyphs">Angle Histogram</text>
<text x="456.80" y="104.20" font-size="9.2" fill="#0000ff" stroke="#0000ff" stroke-width="0.1" textLength="24.70" lengthAdjust="spacingAndGlyphs">Counts</text>
<ellipse cx="423.1" cy="57" rx="15.5" ry="42.3" fill="none" stroke="#9a3cb8" stroke-width="1.25" stroke-dasharray="3.8,1.4,1,1.4"/>
<text x="341.10" y="17.60" font-size="9.3" fill="#0000ff" stroke="#0000ff" stroke-width="0.1" textLength="71.50" lengthAdjust="spacingAndGlyphs">Impedance Control</text>
<text x="343.90" y="25.20" font-size="9.3" fill="#0000ff" stroke="#0000ff" stroke-width="0.1" textLength="62.20" lengthAdjust="spacingAndGlyphs">(small damping)</text>
<line x1="345.60" y1="30.90" x2="333.33" y2="51.66" stroke="#0000ff" stroke-width="1.5"/>
<polygon points="331.30,55.10 331.69,49.52 333.08,52.09 336.00,52.07" fill="#0000ff"/>
<text x="365.50" y="131.90" font-size="9.3" fill="#8a36a2" stroke="#8a36a2" stroke-width="0.1" textLength="172.50" lengthAdjust="spacingAndGlyphs">Histogram concentrated near <tspan font-style="italic">θ</tspan> = 0, very few</text>
<text x="363.60" y="141.10" font-size="9.3" fill="#8a36a2" stroke="#8a36a2" stroke-width="0.1" textLength="172.80" lengthAdjust="spacingAndGlyphs">negative values implies very small overshoot.</text>
<line x1="394.20" y1="118.70" x2="418.41" y2="103.62" stroke="#8a36a2" stroke-width="1.5"/>
<polygon points="421.80,101.50 418.88,106.27 418.83,103.35 416.23,102.02" fill="#8a36a2"/>
<text x="417.60" y="178.40" font-size="9.3" fill="#8a36a2" stroke="#8a36a2" stroke-width="0.1" textLength="98.20" lengthAdjust="spacingAndGlyphs">Small vibration amplitude</text>
<line x1="411.30" y1="174.60" x2="386.64" y2="170.46" stroke="#8a36a2" stroke-width="1.5"/>
<polygon points="382.70,169.80 388.04,168.16 386.15,170.38 387.22,173.09" fill="#8a36a2"/>
<rect x="30.5" y="247.5" width="234.00" height="184.00" fill="none" stroke="#a6a6a6" stroke-width="1"/>
<line x1="30.50" y1="431.5" x2="30.50" y2="429.5" stroke="#a6a6a6" stroke-width="1"/>
<line x1="30.50" y1="247.5" x2="30.50" y2="249.5" stroke="#a6a6a6" stroke-width="1"/>
<text x="30.20" y="440.90" font-size="8.5" fill="#222222" stroke="#222222" stroke-width="0.1" text-anchor="middle">0</text>
<line x1="59.75" y1="431.5" x2="59.75" y2="429.5" stroke="#a6a6a6" stroke-width="1"/>
<line x1="59.75" y1="247.5" x2="59.75" y2="249.5" stroke="#a6a6a6" stroke-width="1"/>
<text x="59.45" y="440.90" font-size="8.5" fill="#222222" stroke="#222222" stroke-width="0.1" text-anchor="middle">5</text>
<line x1="89.00" y1="431.5" x2="89.00" y2="429.5" stroke="#a6a6a6" stroke-width="1"/>
<line x1="89.00" y1="247.5" x2="89.00" y2="249.5" stroke="#a6a6a6" stroke-width="1"/>
<text x="88.70" y="440.90" font-size="8.5" fill="#222222" stroke="#222222" stroke-width="0.1" text-anchor="middle">10</text>
<line x1="118.25" y1="431.5" x2="118.25" y2="429.5" stroke="#a6a6a6" stroke-width="1"/>
<line x1="118.25" y1="247.5" x2="118.25" y2="249.5" stroke="#a6a6a6" stroke-width="1"/>
<text x="117.95" y="440.90" font-size="8.5" fill="#222222" stroke="#222222" stroke-width="0.1" text-anchor="middle">15</text>
<line x1="147.50" y1="431.5" x2="147.50" y2="429.5" stroke="#a6a6a6" stroke-width="1"/>
<line x1="147.50" y1="247.5" x2="147.50" y2="249.5" stroke="#a6a6a6" stroke-width="1"/>
<text x="147.20" y="440.90" font-size="8.5" fill="#222222" stroke="#222222" stroke-width="0.1" text-anchor="middle">20</text>
<line x1="176.75" y1="431.5" x2="176.75" y2="429.5" stroke="#a6a6a6" stroke-width="1"/>
<line x1="176.75" y1="247.5" x2="176.75" y2="249.5" stroke="#a6a6a6" stroke-width="1"/>
<text x="176.45" y="440.90" font-size="8.5" fill="#222222" stroke="#222222" stroke-width="0.1" text-anchor="middle">25</text>
<line x1="206.00" y1="431.5" x2="206.00" y2="429.5" stroke="#a6a6a6" stroke-width="1"/>
<line x1="206.00" y1="247.5" x2="206.00" y2="249.5" stroke="#a6a6a6" stroke-width="1"/>
<text x="205.70" y="440.90" font-size="8.5" fill="#222222" stroke="#222222" stroke-width="0.1" text-anchor="middle">30</text>
<line x1="235.25" y1="431.5" x2="235.25" y2="429.5" stroke="#a6a6a6" stroke-width="1"/>
<line x1="235.25" y1="247.5" x2="235.25" y2="249.5" stroke="#a6a6a6" stroke-width="1"/>
<text x="234.95" y="440.90" font-size="8.5" fill="#222222" stroke="#222222" stroke-width="0.1" text-anchor="middle">35</text>
<line x1="264.50" y1="431.5" x2="264.50" y2="429.5" stroke="#a6a6a6" stroke-width="1"/>
<line x1="264.50" y1="247.5" x2="264.50" y2="249.5" stroke="#a6a6a6" stroke-width="1"/>
<text x="264.20" y="440.90" font-size="8.5" fill="#222222" stroke="#222222" stroke-width="0.1" text-anchor="middle">40</text>
<line x1="30.5" y1="431.50" x2="32.5" y2="431.50" stroke="#a6a6a6" stroke-width="1"/>
<line x1="264.5" y1="431.50" x2="262.5" y2="431.50" stroke="#a6a6a6" stroke-width="1"/>
<text x="12.10" y="435.00" font-size="8.2" fill="#008000" stroke="#008000" stroke-width="0.1" textLength="15" lengthAdjust="spacing">−10</text>
<line x1="30.5" y1="400.83" x2="32.5" y2="400.83" stroke="#a6a6a6" stroke-width="1"/>
<line x1="264.5" y1="400.83" x2="262.5" y2="400.83" stroke="#a6a6a6" stroke-width="1"/>
<text x="23.70" y="404.33" font-size="8.2" fill="#008000" stroke="#008000" stroke-width="0.1" textLength="4.4" lengthAdjust="spacing">0</text>
<line x1="30.5" y1="370.17" x2="32.5" y2="370.17" stroke="#a6a6a6" stroke-width="1"/>
<line x1="264.5" y1="370.17" x2="262.5" y2="370.17" stroke="#a6a6a6" stroke-width="1"/>
<text x="19.30" y="373.67" font-size="8.2" fill="#008000" stroke="#008000" stroke-width="0.1" textLength="8.2" lengthAdjust="spacing">10</text>
<line x1="30.5" y1="339.50" x2="32.5" y2="339.50" stroke="#a6a6a6" stroke-width="1"/>
<line x1="264.5" y1="339.50" x2="262.5" y2="339.50" stroke="#a6a6a6" stroke-width="1"/>
<text x="19.30" y="343.00" font-size="8.2" fill="#008000" stroke="#008000" stroke-width="0.1" textLength="8.2" lengthAdjust="spacing">20</text>
<line x1="30.5" y1="308.83" x2="32.5" y2="308.83" stroke="#a6a6a6" stroke-width="1"/>
<line x1="264.5" y1="308.83" x2="262.5" y2="308.83" stroke="#a6a6a6" stroke-width="1"/>
<text x="19.30" y="312.33" font-size="8.2" fill="#008000" stroke="#008000" stroke-width="0.1" textLength="8.2" lengthAdjust="spacing">30</text>
<line x1="30.5" y1="278.17" x2="32.5" y2="278.17" stroke="#a6a6a6" stroke-width="1"/>
<line x1="264.5" y1="278.17" x2="262.5" y2="278.17" stroke="#a6a6a6" stroke-width="1"/>
<text x="19.30" y="281.67" font-size="8.2" fill="#008000" stroke="#008000" stroke-width="0.1" textLength="8.2" lengthAdjust="spacing">40</text>
<line x1="30.5" y1="247.50" x2="32.5" y2="247.50" stroke="#a6a6a6" stroke-width="1"/>
<line x1="264.5" y1="247.50" x2="262.5" y2="247.50" stroke="#a6a6a6" stroke-width="1"/>
<text x="19.30" y="251.00" font-size="8.2" fill="#008000" stroke="#008000" stroke-width="0.1" textLength="8.2" lengthAdjust="spacing">50</text>
<line x1="30.5" y1="400.85" x2="252.80" y2="400.85" stroke="#2a2a2a" stroke-width="2"/>
<polyline points="30.50,262.00 36.35,260.90 42.20,266.20 48.05,270.50 53.90,279.30 59.75,289.70 65.60,302.20 71.45,316.00 77.30,329.90 83.15,343.70 89.00,357.50 94.85,369.00 100.70,380.90 106.55,387.40 112.40,394.60 118.25,396.70 124.10,398.30 129.95,397.10 135.80,396.70 141.65,395.30 147.50,393.10 153.35,393.10 159.20,396.00 165.05,397.50 170.90,398.60 176.75,400.00 182.60,403.00 188.45,403.30 194.30,403.20 200.15,399.50 206.00,402.90 211.85,402.20 217.70,400.00 223.55,402.50 229.40,401.00 235.25,402.90 241.10,400.70 246.95,400.30 252.80,403.60" fill="none" stroke="#008000" stroke-width="1.5" stroke-linejoin="round"/>
<circle cx="30.50" cy="262.00" r="1.8" fill="#008000"/>
<circle cx="36.35" cy="260.90" r="1.8" fill="#008000"/>
<circle cx="42.20" cy="266.20" r="1.8" fill="#008000"/>
<circle cx="48.05" cy="270.50" r="1.8" fill="#008000"/>
<circle cx="53.90" cy="279.30" r="1.8" fill="#008000"/>
<circle cx="59.75" cy="289.70" r="1.8" fill="#008000"/>
<circle cx="65.60" cy="302.20" r="1.8" fill="#008000"/>
<circle cx="71.45" cy="316.00" r="1.8" fill="#008000"/>
<circle cx="77.30" cy="329.90" r="1.8" fill="#008000"/>
<circle cx="83.15" cy="343.70" r="1.8" fill="#008000"/>
<circle cx="89.00" cy="357.50" r="1.8" fill="#008000"/>
<circle cx="94.85" cy="369.00" r="1.8" fill="#008000"/>
<circle cx="100.70" cy="380.90" r="1.8" fill="#008000"/>
<circle cx="106.55" cy="387.40" r="1.8" fill="#008000"/>
<circle cx="112.40" cy="394.60" r="1.8" fill="#008000"/>
<circle cx="118.25" cy="396.70" r="1.8" fill="#008000"/>
<circle cx="124.10" cy="398.30" r="1.8" fill="#008000"/>
<circle cx="129.95" cy="397.10" r="1.8" fill="#008000"/>
<circle cx="135.80" cy="396.70" r="1.8" fill="#008000"/>
<circle cx="141.65" cy="395.30" r="1.8" fill="#008000"/>
<circle cx="147.50" cy="393.10" r="1.8" fill="#008000"/>
<circle cx="153.35" cy="393.10" r="1.8" fill="#008000"/>
<circle cx="159.20" cy="396.00" r="1.8" fill="#008000"/>
<circle cx="165.05" cy="397.50" r="1.8" fill="#008000"/>
<circle cx="170.90" cy="398.60" r="1.8" fill="#008000"/>
<circle cx="176.75" cy="400.00" r="1.8" fill="#008000"/>
<circle cx="182.60" cy="403.00" r="1.8" fill="#008000"/>
<circle cx="188.45" cy="403.30" r="1.8" fill="#008000"/>
<circle cx="194.30" cy="403.20" r="1.8" fill="#008000"/>
<circle cx="200.15" cy="399.50" r="1.8" fill="#008000"/>
<circle cx="206.00" cy="402.90" r="1.8" fill="#008000"/>
<circle cx="211.85" cy="402.20" r="1.8" fill="#008000"/>
<circle cx="217.70" cy="400.00" r="1.8" fill="#008000"/>
<circle cx="223.55" cy="402.50" r="1.8" fill="#008000"/>
<circle cx="229.40" cy="401.00" r="1.8" fill="#008000"/>
<circle cx="235.25" cy="402.90" r="1.8" fill="#008000"/>
<circle cx="241.10" cy="400.70" r="1.8" fill="#008000"/>
<circle cx="246.95" cy="400.30" r="1.8" fill="#008000"/>
<circle cx="252.80" cy="403.60" r="1.8" fill="#008000"/>
<text transform="translate(9.8,405.6) rotate(-90)" font-size="11.4" fill="#008000" stroke="#008000" stroke-width="0.1" textLength="131.60" lengthAdjust="spacing">Bending Angle <tspan font-style="italic">θ</tspan>(<tspan font-style="italic">k</tspan>), degrees</text>
<text x="112.60" y="455.60" font-size="12" fill="#222222" stroke="#222222" stroke-width="0.1" textLength="69.00" lengthAdjust="spacingAndGlyphs">Time Index (<tspan font-style="italic">k</tspan>)</text>
<text x="129.70" y="473.00" font-size="13.2" fill="#222222" stroke="#222222" stroke-width="0.1" textLength="15.50" lengthAdjust="spacingAndGlyphs" font-weight="bold">(c)</text>
<rect x="143.7" y="264.5" width="92.60" height="65.50" fill="#fff" stroke="#a6a6a6" stroke-width="0.8"/>
<rect x="143.7" y="272.3" width="6.17" height="7.50" fill="#5aab5a" stroke="#1f5f1f" stroke-width="0.7"/>
<rect x="143.7" y="279.8" width="6.17" height="8.50" fill="#5aab5a" stroke="#1f5f1f" stroke-width="0.7"/>
<rect x="143.7" y="288.3" width="67.91" height="7.50" fill="#5aab5a" stroke="#1f5f1f" stroke-width="0.7"/>
<rect x="143.7" y="295.8" width="86.43" height="8.10" fill="#5aab5a" stroke="#1f5f1f" stroke-width="0.7"/>
<line x1="143.70" y1="330.0" x2="143.70" y2="328.5" stroke="#a6a6a6" stroke-width="0.8"/>
<line x1="143.70" y1="264.5" x2="143.70" y2="266.0" stroke="#a6a6a6" stroke-width="0.8"/>
<text x="143.70" y="339.7" font-size="7.6" fill="#008000" stroke="#008000" stroke-width="0.1" text-anchor="middle">0</text>
<line x1="174.57" y1="330.0" x2="174.57" y2="328.5" stroke="#a6a6a6" stroke-width="0.8"/>
<line x1="174.57" y1="264.5" x2="174.57" y2="266.0" stroke="#a6a6a6" stroke-width="0.8"/>
<text x="174.57" y="339.7" font-size="7.6" fill="#008000" stroke="#008000" stroke-width="0.1" text-anchor="middle">5</text>
<line x1="205.43" y1="330.0" x2="205.43" y2="328.5" stroke="#a6a6a6" stroke-width="0.8"/>
<line x1="205.43" y1="264.5" x2="205.43" y2="266.0" stroke="#a6a6a6" stroke-width="0.8"/>
<text x="205.43" y="339.7" font-size="7.6" fill="#008000" stroke="#008000" stroke-width="0.1" text-anchor="middle">10</text>
<line x1="236.30" y1="330.0" x2="236.30" y2="328.5" stroke="#a6a6a6" stroke-width="0.8"/>
<line x1="236.30" y1="264.5" x2="236.30" y2="266.0" stroke="#a6a6a6" stroke-width="0.8"/>
<text x="236.30" y="339.7" font-size="7.6" fill="#008000" stroke="#008000" stroke-width="0.1" text-anchor="middle">15</text>
<line x1="236.3" y1="264.50" x2="234.8" y2="264.50" stroke="#a6a6a6" stroke-width="0.8"/>
<line x1="143.7" y1="264.50" x2="145.2" y2="264.50" stroke="#a6a6a6" stroke-width="0.8"/>
<text x="133.70" y="267.10" font-size="7.6" fill="#008000" stroke="#008000" stroke-width="0.1" textLength="6.8" lengthAdjust="spacing">10</text>
<line x1="236.3" y1="280.88" x2="234.8" y2="280.88" stroke="#a6a6a6" stroke-width="0.8"/>
<line x1="143.7" y1="280.88" x2="145.2" y2="280.88" stroke="#a6a6a6" stroke-width="0.8"/>
<text x="136.60" y="283.48" font-size="7.6" fill="#008000" stroke="#008000" stroke-width="0.1" textLength="3.9" lengthAdjust="spacing">5</text>
<line x1="236.3" y1="297.25" x2="234.8" y2="297.25" stroke="#a6a6a6" stroke-width="0.8"/>
<line x1="143.7" y1="297.25" x2="145.2" y2="297.25" stroke="#a6a6a6" stroke-width="0.8"/>
<text x="136.60" y="299.85" font-size="7.6" fill="#008000" stroke="#008000" stroke-width="0.1" textLength="3.9" lengthAdjust="spacing">0</text>
<line x1="236.3" y1="313.62" x2="234.8" y2="313.62" stroke="#a6a6a6" stroke-width="0.8"/>
<line x1="143.7" y1="313.62" x2="145.2" y2="313.62" stroke="#a6a6a6" stroke-width="0.8"/>
<text x="131.90" y="316.23" font-size="7.6" fill="#008000" stroke="#008000" stroke-width="0.1" textLength="8.6" lengthAdjust="spacing">−5</text>
<line x1="236.3" y1="330.00" x2="234.8" y2="330.00" stroke="#a6a6a6" stroke-width="0.8"/>
<line x1="143.7" y1="330.00" x2="145.2" y2="330.00" stroke="#a6a6a6" stroke-width="0.8"/>
<text x="127.70" y="332.60" font-size="7.6" fill="#008000" stroke="#008000" stroke-width="0.1" textLength="12.8" lengthAdjust="spacing">−10</text>
<text transform="translate(125.9,306) rotate(-90)" font-size="9.5" fill="#008000" stroke="#008000" stroke-width="0.1" text-anchor="start" textLength="16" lengthAdjust="spacing"><tspan font-style="italic">θ</tspan>(<tspan font-style="italic">k</tspan>)</text>
<text x="156.20" y="260.20" font-size="9.6" fill="#111" stroke="#111" stroke-width="0.1" textLength="64.80" lengthAdjust="spacingAndGlyphs">Angle Histogram</text>
<text x="177.00" y="346.60" font-size="9.2" fill="#008000" stroke="#008000" stroke-width="0.1" textLength="24.70" lengthAdjust="spacingAndGlyphs">Counts</text>
<ellipse cx="143.3" cy="300" rx="15.6" ry="42.9" fill="none" stroke="#9a3cb8" stroke-width="1.25" stroke-dasharray="3.8,1.4,1,1.4"/>
<text x="61.00" y="257.30" font-size="9.3" fill="#008000" stroke="#008000" stroke-width="0.1" textLength="72.00" lengthAdjust="spacingAndGlyphs">Impedance Control</text>
<text x="65.40" y="265.90" font-size="9.3" fill="#008000" stroke="#008000" stroke-width="0.1" textLength="61.10" lengthAdjust="spacingAndGlyphs">(large damping)</text>
<line x1="79.50" y1="271.20" x2="67.43" y2="291.75" stroke="#008000" stroke-width="1.5"/>
<polygon points="65.40,295.20 65.78,289.62 67.17,292.18 70.09,292.16" fill="#008000"/>
<text x="114.90" y="373.00" font-size="9.3" fill="#8a36a2" stroke="#8a36a2" stroke-width="0.1" textLength="148.50" lengthAdjust="spacingAndGlyphs">Histogram concentrated near <tspan font-style="italic">θ</tspan> = 0, no</text>
<text x="110.50" y="381.30" font-size="9.3" fill="#8a36a2" stroke="#8a36a2" stroke-width="0.1" textLength="152.90" lengthAdjust="spacingAndGlyphs">negative values implies no overshooting.</text>
<line x1="147.50" y1="363.30" x2="143.45" y2="346.79" stroke="#8a36a2" stroke-width="1.5"/>
<polygon points="142.50,342.90 146.12,347.16 143.33,346.30 141.26,348.35" fill="#8a36a2"/>
<text x="148.70" y="423.40" font-size="9.3" fill="#8a36a2" stroke="#8a36a2" stroke-width="0.1" textLength="103.90" lengthAdjust="spacingAndGlyphs">No overshoot and vibration</text>
<line x1="142.70" y1="415.60" x2="128.03" y2="402.92" stroke="#8a36a2" stroke-width="1.5"/>
<polygon points="125.00,400.30 130.42,401.68 127.65,402.59 127.15,405.46" fill="#8a36a2"/>
<rect x="310.5" y="247.5" width="234.00" height="184.00" fill="none" stroke="#a6a6a6" stroke-width="1"/>
<line x1="310.50" y1="431.5" x2="310.50" y2="429.5" stroke="#a6a6a6" stroke-width="1"/>
<line x1="310.50" y1="247.5" x2="310.50" y2="249.5" stroke="#a6a6a6" stroke-width="1"/>
<text x="310.20" y="440.90" font-size="8.5" fill="#222222" stroke="#222222" stroke-width="0.1" text-anchor="middle">0</text>
<line x1="339.75" y1="431.5" x2="339.75" y2="429.5" stroke="#a6a6a6" stroke-width="1"/>
<line x1="339.75" y1="247.5" x2="339.75" y2="249.5" stroke="#a6a6a6" stroke-width="1"/>
<text x="339.45" y="440.90" font-size="8.5" fill="#222222" stroke="#222222" stroke-width="0.1" text-anchor="middle">5</text>
<line x1="369.00" y1="431.5" x2="369.00" y2="429.5" stroke="#a6a6a6" stroke-width="1"/>
<line x1="369.00" y1="247.5" x2="369.00" y2="249.5" stroke="#a6a6a6" stroke-width="1"/>
<text x="368.70" y="440.90" font-size="8.5" fill="#222222" stroke="#222222" stroke-width="0.1" text-anchor="middle">10</text>
<line x1="398.25" y1="431.5" x2="398.25" y2="429.5" stroke="#a6a6a6" stroke-width="1"/>
<line x1="398.25" y1="247.5" x2="398.25" y2="249.5" stroke="#a6a6a6" stroke-width="1"/>
<text x="397.95" y="440.90" font-size="8.5" fill="#222222" stroke="#222222" stroke-width="0.1" text-anchor="middle">15</text>
<line x1="427.50" y1="431.5" x2="427.50" y2="429.5" stroke="#a6a6a6" stroke-width="1"/>
<line x1="427.50" y1="247.5" x2="427.50" y2="249.5" stroke="#a6a6a6" stroke-width="1"/>
<text x="427.20" y="440.90" font-size="8.5" fill="#222222" stroke="#222222" stroke-width="0.1" text-anchor="middle">20</text>
<line x1="456.75" y1="431.5" x2="456.75" y2="429.5" stroke="#a6a6a6" stroke-width="1"/>
<line x1="456.75" y1="247.5" x2="456.75" y2="249.5" stroke="#a6a6a6" stroke-width="1"/>
<text x="456.45" y="440.90" font-size="8.5" fill="#222222" stroke="#222222" stroke-width="0.1" text-anchor="middle">25</text>
<line x1="486.00" y1="431.5" x2="486.00" y2="429.5" stroke="#a6a6a6" stroke-width="1"/>
<line x1="486.00" y1="247.5" x2="486.00" y2="249.5" stroke="#a6a6a6" stroke-width="1"/>
<text x="485.70" y="440.90" font-size="8.5" fill="#222222" stroke="#222222" stroke-width="0.1" text-anchor="middle">30</text>
<line x1="515.25" y1="431.5" x2="515.25" y2="429.5" stroke="#a6a6a6" stroke-width="1"/>
<line x1="515.25" y1="247.5" x2="515.25" y2="249.5" stroke="#a6a6a6" stroke-width="1"/>
<text x="514.95" y="440.90" font-size="8.5" fill="#222222" stroke="#222222" stroke-width="0.1" text-anchor="middle">35</text>
<line x1="544.50" y1="431.5" x2="544.50" y2="429.5" stroke="#a6a6a6" stroke-width="1"/>
<line x1="544.50" y1="247.5" x2="544.50" y2="249.5" stroke="#a6a6a6" stroke-width="1"/>
<text x="544.20" y="440.90" font-size="8.5" fill="#222222" stroke="#222222" stroke-width="0.1" text-anchor="middle">40</text>
<line x1="310.5" y1="431.50" x2="312.5" y2="431.50" stroke="#a6a6a6" stroke-width="1"/>
<line x1="544.5" y1="431.50" x2="542.5" y2="431.50" stroke="#a6a6a6" stroke-width="1"/>
<text x="292.10" y="435.00" font-size="8.2" fill="#222222" stroke="#222222" stroke-width="0.1" textLength="15" lengthAdjust="spacing">−10</text>
<line x1="310.5" y1="400.83" x2="312.5" y2="400.83" stroke="#a6a6a6" stroke-width="1"/>
<line x1="544.5" y1="400.83" x2="542.5" y2="400.83" stroke="#a6a6a6" stroke-width="1"/>
<text x="303.70" y="404.33" font-size="8.2" fill="#222222" stroke="#222222" stroke-width="0.1" textLength="4.4" lengthAdjust="spacing">0</text>
<line x1="310.5" y1="370.17" x2="312.5" y2="370.17" stroke="#a6a6a6" stroke-width="1"/>
<line x1="544.5" y1="370.17" x2="542.5" y2="370.17" stroke="#a6a6a6" stroke-width="1"/>
<text x="299.30" y="373.67" font-size="8.2" fill="#222222" stroke="#222222" stroke-width="0.1" textLength="8.2" lengthAdjust="spacing">10</text>
<line x1="310.5" y1="339.50" x2="312.5" y2="339.50" stroke="#a6a6a6" stroke-width="1"/>
<line x1="544.5" y1="339.50" x2="542.5" y2="339.50" stroke="#a6a6a6" stroke-width="1"/>
<text x="299.30" y="343.00" font-size="8.2" fill="#222222" stroke="#222222" stroke-width="0.1" textLength="8.2" lengthAdjust="spacing">20</text>
<line x1="310.5" y1="308.83" x2="312.5" y2="308.83" stroke="#a6a6a6" stroke-width="1"/>
<line x1="544.5" y1="308.83" x2="542.5" y2="308.83" stroke="#a6a6a6" stroke-width="1"/>
<text x="299.30" y="312.33" font-size="8.2" fill="#222222" stroke="#222222" stroke-width="0.1" textLength="8.2" lengthAdjust="spacing">30</text>
<line x1="310.5" y1="278.17" x2="312.5" y2="278.17" stroke="#a6a6a6" stroke-width="1"/>
<line x1="544.5" y1="278.17" x2="542.5" y2="278.17" stroke="#a6a6a6" stroke-width="1"/>
<text x="299.30" y="281.67" font-size="8.2" fill="#222222" stroke="#222222" stroke-width="0.1" textLength="8.2" lengthAdjust="spacing">40</text>
<line x1="310.5" y1="247.50" x2="312.5" y2="247.50" stroke="#a6a6a6" stroke-width="1"/>
<line x1="544.5" y1="247.50" x2="542.5" y2="247.50" stroke="#a6a6a6" stroke-width="1"/>
<text x="299.30" y="251.00" font-size="8.2" fill="#222222" stroke="#222222" stroke-width="0.1" textLength="8.2" lengthAdjust="spacing">50</text>
<polyline points="310.50,263.50 316.35,263.80 322.20,268.60 328.05,276.30 333.90,288.30 339.75,304.30 345.60,323.30 351.45,346.50 357.30,372.00 363.15,401.00 369.00,408.80 374.85,414.50 380.70,415.90 386.55,412.70 392.40,407.70 398.25,402.30 404.10,396.00 409.95,391.40 415.80,389.10 421.65,389.70 427.50,392.90 433.35,403.30 439.20,406.30 445.05,403.30 450.90,402.10 456.75,401.80 462.60,400.50 468.45,400.50 474.30,400.50 480.15,400.50 486.00,400.50 491.85,400.50 497.70,400.50 503.55,400.50 509.40,400.50 515.25,400.50 521.10,400.50 526.95,400.50 532.80,400.50 538.65,400.50 544.50,400.50" fill="none" stroke="#ff0000" stroke-width="1.5" stroke-linejoin="round"/>
<circle cx="310.50" cy="263.50" r="1.3" fill="#ff0000"/>
<circle cx="316.35" cy="263.80" r="1.3" fill="#ff0000"/>
<circle cx="322.20" cy="268.60" r="1.3" fill="#ff0000"/>
<circle cx="328.05" cy="276.30" r="1.3" fill="#ff0000"/>
<circle cx="333.90" cy="288.30" r="1.3" fill="#ff0000"/>
<circle cx="339.75" cy="304.30" r="1.3" fill="#ff0000"/>
<circle cx="345.60" cy="323.30" r="1.3" fill="#ff0000"/>
<circle cx="351.45" cy="346.50" r="1.3" fill="#ff0000"/>
<circle cx="357.30" cy="372.00" r="1.3" fill="#ff0000"/>
<circle cx="363.15" cy="401.00" r="1.3" fill="#ff0000"/>
<circle cx="369.00" cy="408.80" r="1.3" fill="#ff0000"/>
<circle cx="374.85" cy="414.50" r="1.3" fill="#ff0000"/>
<circle cx="380.70" cy="415.90" r="1.3" fill="#ff0000"/>
<circle cx="386.55" cy="412.70" r="1.3" fill="#ff0000"/>
<circle cx="392.40" cy="407.70" r="1.3" fill="#ff0000"/>
<circle cx="398.25" cy="402.30" r="1.3" fill="#ff0000"/>
<circle cx="404.10" cy="396.00" r="1.3" fill="#ff0000"/>
<circle cx="409.95" cy="391.40" r="1.3" fill="#ff0000"/>
<circle cx="415.80" cy="389.10" r="1.3" fill="#ff0000"/>
<circle cx="421.65" cy="389.70" r="1.3" fill="#ff0000"/>
<circle cx="427.50" cy="392.90" r="1.3" fill="#ff0000"/>
<circle cx="433.35" cy="403.30" r="1.3" fill="#ff0000"/>
<circle cx="439.20" cy="406.30" r="1.3" fill="#ff0000"/>
<circle cx="445.05" cy="403.30" r="1.3" fill="#ff0000"/>
<circle cx="450.90" cy="402.10" r="1.3" fill="#ff0000"/>
<circle cx="456.75" cy="401.80" r="1.3" fill="#ff0000"/>
<circle cx="462.60" cy="400.50" r="1.3" fill="#ff0000"/>
<circle cx="468.45" cy="400.50" r="1.3" fill="#ff0000"/>
<circle cx="474.30" cy="400.50" r="1.3" fill="#ff0000"/>
<circle cx="480.15" cy="400.50" r="1.3" fill="#ff0000"/>
<circle cx="486.00" cy="400.50" r="1.3" fill="#ff0000"/>
<circle cx="491.85" cy="400.50" r="1.3" fill="#ff0000"/>
<circle cx="497.70" cy="400.50" r="1.3" fill="#ff0000"/>
<circle cx="503.55" cy="400.50" r="1.3" fill="#ff0000"/>
<circle cx="509.40" cy="400.50" r="1.3" fill="#ff0000"/>
<circle cx="515.25" cy="400.50" r="1.3" fill="#ff0000"/>
<circle cx="521.10" cy="400.50" r="1.3" fill="#ff0000"/>
<circle cx="526.95" cy="400.50" r="1.3" fill="#ff0000"/>
<circle cx="532.80" cy="400.50" r="1.3" fill="#ff0000"/>
<circle cx="538.65" cy="400.50" r="1.3" fill="#ff0000"/>
<circle cx="544.50" cy="400.50" r="1.3" fill="#ff0000"/>
<polyline points="310.50,263.50 316.35,265.70 322.20,271.00 328.05,278.90 333.90,290.70 339.75,304.80 345.60,323.80 351.45,344.10 357.30,366.20 363.15,394.20 369.00,402.70 374.85,411.40 380.70,414.50 386.55,415.00 392.40,412.30 398.25,408.20 404.10,402.60 409.95,399.00 415.80,396.70 421.65,397.70 427.50,401.20 433.35,403.30 439.20,403.30 445.05,402.80 450.90,402.50 456.75,402.40 462.60,402.40 468.45,402.40 474.30,402.40 480.15,402.40 486.00,402.40 491.85,402.40 497.70,402.40 503.55,402.40 509.40,402.40 515.25,402.40 521.10,402.40 526.95,402.40 532.80,402.40 538.65,402.40 544.50,402.40" fill="none" stroke="#0000ff" stroke-width="1.4" stroke-linejoin="round" stroke-dasharray="3,1.4"/>
<circle cx="310.50" cy="263.50" r="1.45" fill="#0000ff"/>
<circle cx="316.35" cy="265.70" r="1.45" fill="#0000ff"/>
<circle cx="322.20" cy="271.00" r="1.45" fill="#0000ff"/>
<circle cx="328.05" cy="278.90" r="1.45" fill="#0000ff"/>
<circle cx="333.90" cy="290.70" r="1.45" fill="#0000ff"/>
<circle cx="339.75" cy="304.80" r="1.45" fill="#0000ff"/>
<circle cx="345.60" cy="323.80" r="1.45" fill="#0000ff"/>
<circle cx="351.45" cy="344.10" r="1.45" fill="#0000ff"/>
<circle cx="357.30" cy="366.20" r="1.45" fill="#0000ff"/>
<circle cx="363.15" cy="394.20" r="1.45" fill="#0000ff"/>
<circle cx="369.00" cy="402.70" r="1.45" fill="#0000ff"/>
<circle cx="374.85" cy="411.40" r="1.45" fill="#0000ff"/>
<circle cx="380.70" cy="414.50" r="1.45" fill="#0000ff"/>
<circle cx="386.55" cy="415.00" r="1.45" fill="#0000ff"/>
<circle cx="392.40" cy="412.30" r="1.45" fill="#0000ff"/>
<circle cx="398.25" cy="408.20" r="1.45" fill="#0000ff"/>
<circle cx="404.10" cy="402.60" r="1.45" fill="#0000ff"/>
<circle cx="409.95" cy="399.00" r="1.45" fill="#0000ff"/>
<circle cx="415.80" cy="396.70" r="1.45" fill="#0000ff"/>
<circle cx="421.65" cy="397.70" r="1.45" fill="#0000ff"/>
<circle cx="427.50" cy="401.20" r="1.45" fill="#0000ff"/>
<circle cx="433.35" cy="403.30" r="1.45" fill="#0000ff"/>
<circle cx="439.20" cy="403.30" r="1.45" fill="#0000ff"/>
<circle cx="445.05" cy="402.80" r="1.45" fill="#0000ff"/>
<circle cx="450.90" cy="402.50" r="1.45" fill="#0000ff"/>
<circle cx="456.75" cy="402.40" r="1.45" fill="#0000ff"/>
<circle cx="462.60" cy="402.40" r="1.45" fill="#0000ff"/>
<circle cx="468.45" cy="402.40" r="1.45" fill="#0000ff"/>
<circle cx="474.30" cy="402.40" r="1.45" fill="#0000ff"/>
<circle cx="480.15" cy="402.40" r="1.45" fill="#0000ff"/>
<circle cx="486.00" cy="402.40" r="1.45" fill="#0000ff"/>
<circle cx="491.85" cy="402.40" r="1.45" fill="#0000ff"/>
<circle cx="497.70" cy="402.40" r="1.45" fill="#0000ff"/>
<circle cx="503.55" cy="402.40" r="1.45" fill="#0000ff"/>
<circle cx="509.40" cy="402.40" r="1.45" fill="#0000ff"/>
<circle cx="515.25" cy="402.40" r="1.45" fill="#0000ff"/>
<circle cx="521.10" cy="402.40" r="1.45" fill="#0000ff"/>
<circle cx="526.95" cy="402.40" r="1.45" fill="#0000ff"/>
<circle cx="532.80" cy="402.40" r="1.45" fill="#0000ff"/>
<circle cx="538.65" cy="402.40" r="1.45" fill="#0000ff"/>
<circle cx="544.50" cy="402.40" r="1.45" fill="#0000ff"/>
<line x1="310.5" y1="400.85" x2="544.50" y2="400.85" stroke="#2a2a2a" stroke-width="2"/>
<text transform="translate(289.8,405.6) rotate(-90)" font-size="11.4" fill="#222222" stroke="#222222" stroke-width="0.1" textLength="131.60" lengthAdjust="spacing">Bending Angle <tspan font-style="italic">θ</tspan>(<tspan font-style="italic">k</tspan>), degrees</text>
<text x="392.40" y="455.60" font-size="12" fill="#222222" stroke="#222222" stroke-width="0.1" textLength="69.00" lengthAdjust="spacingAndGlyphs">Time Index (<tspan font-style="italic">k</tspan>)</text>
<text x="409.20" y="473.00" font-size="13.2" fill="#222222" stroke="#222222" stroke-width="0.1" textLength="15.50" lengthAdjust="spacingAndGlyphs" font-weight="bold">(d)</text>
<rect x="462.2" y="262.4" width="63.60" height="44.00" fill="#fff" stroke="#a6a6a6" stroke-width="0.8"/>
<rect x="462.2" y="262.6" width="2.12" height="6.30" fill="#fa6060" stroke="#963838" stroke-width="0.6"/>
<rect x="462.2" y="275" width="8.48" height="5.40" fill="#fa6060" stroke="#963838" stroke-width="0.6"/>
<rect x="462.2" y="280.4" width="44.52" height="5.70" fill="#fa6060" stroke="#963838" stroke-width="0.6"/>
<rect x="462.2" y="286.1" width="8.48" height="5.70" fill="#fa6060" stroke="#963838" stroke-width="0.6"/>
<rect x="462.2" y="291.8" width="6.36" height="5.80" fill="#fa6060" stroke="#963838" stroke-width="0.6"/>
<line x1="483.40" y1="306.4" x2="483.40" y2="305.2" stroke="#a6a6a6" stroke-width="0.8"/>
<line x1="483.40" y1="262.4" x2="483.40" y2="263.59999999999997" stroke="#a6a6a6" stroke-width="0.8"/>
<line x1="504.60" y1="306.4" x2="504.60" y2="305.2" stroke="#a6a6a6" stroke-width="0.8"/>
<line x1="504.60" y1="262.4" x2="504.60" y2="263.59999999999997" stroke="#a6a6a6" stroke-width="0.8"/>
<line x1="525.8" y1="284.40" x2="524.5999999999999" y2="284.40" stroke="#a6a6a6" stroke-width="0.8"/>
<text x="451.90" y="265.20" font-size="7.6" fill="#ff0000" stroke="#ff0000" stroke-width="0.1" textLength="6.9" lengthAdjust="spacing">10</text>
<text x="455.20" y="287.20" font-size="7.6" fill="#ff0000" stroke="#ff0000" stroke-width="0.1" textLength="3.6" lengthAdjust="spacing">0</text>
<text x="445.60" y="309.20" font-size="7.6" fill="#ff0000" stroke="#ff0000" stroke-width="0.1" textLength="13.2" lengthAdjust="spacing">−10</text>
<text transform="translate(449.6,293.6) rotate(-90)" font-size="9.3" fill="#ff0000" stroke="#ff0000" stroke-width="0.1" text-anchor="start" textLength="16" lengthAdjust="spacing"><tspan font-style="italic">θ</tspan>(<tspan font-style="italic">k</tspan>)</text>
<rect x="462.2" y="315.1" width="64.40" height="47.20" fill="#fff" stroke="#a6a6a6" stroke-width="0.8"/>
<rect x="462.2" y="315.1" width="2.15" height="1.20" fill="#5c5cf5" stroke="#282890" stroke-width="0.6"/>
<rect x="462.2" y="328.4" width="2.15" height="5.90" fill="#5c5cf5" stroke="#282890" stroke-width="0.6"/>
<rect x="462.2" y="334.3" width="55.81" height="6.20" fill="#5c5cf5" stroke="#282890" stroke-width="0.6"/>
<rect x="462.2" y="340.5" width="2.15" height="6.00" fill="#5c5cf5" stroke="#282890" stroke-width="0.6"/>
<rect x="462.2" y="346.5" width="8.59" height="6.20" fill="#5c5cf5" stroke="#282890" stroke-width="0.6"/>
<line x1="483.67" y1="362.3" x2="483.67" y2="361.1" stroke="#a6a6a6" stroke-width="0.8"/>
<line x1="483.67" y1="315.1" x2="483.67" y2="316.3" stroke="#a6a6a6" stroke-width="0.8"/>
<line x1="505.13" y1="362.3" x2="505.13" y2="361.1" stroke="#a6a6a6" stroke-width="0.8"/>
<line x1="505.13" y1="315.1" x2="505.13" y2="316.3" stroke="#a6a6a6" stroke-width="0.8"/>
<line x1="526.6" y1="338.70" x2="525.4" y2="338.70" stroke="#a6a6a6" stroke-width="0.8"/>
<text x="451.90" y="317.90" font-size="7.6" fill="#0000ff" stroke="#0000ff" stroke-width="0.1" textLength="6.9" lengthAdjust="spacing">10</text>
<text x="455.20" y="341.50" font-size="7.6" fill="#0000ff" stroke="#0000ff" stroke-width="0.1" textLength="3.6" lengthAdjust="spacing">0</text>
<text x="445.60" y="365.10" font-size="7.6" fill="#0000ff" stroke="#0000ff" stroke-width="0.1" textLength="13.2" lengthAdjust="spacing">−10</text>
<text transform="translate(450,347.3) rotate(-90)" font-size="9.3" fill="#0000ff" stroke="#0000ff" stroke-width="0.1" text-anchor="start" textLength="16" lengthAdjust="spacing"><tspan font-style="italic">θ</tspan>(<tspan font-style="italic">k</tspan>)</text>
<text x="462.20" y="370.8" font-size="7.6" fill="#222222" stroke="#222222" stroke-width="0.1" text-anchor="middle">0</text>
<text x="483.67" y="370.8" font-size="7.6" fill="#222222" stroke="#222222" stroke-width="0.1" text-anchor="middle">10</text>
<text x="505.13" y="370.8" font-size="7.6" fill="#222222" stroke="#222222" stroke-width="0.1" text-anchor="middle">20</text>
<text x="521.00" y="370.90" font-size="6" fill="#222222" stroke="#222222" stroke-width="0.1" textLength="11.40" lengthAdjust="spacingAndGlyphs">30ys</text>
<text x="481.80" y="379.30" font-size="9" fill="#222222" stroke="#222222" stroke-width="0.1" textLength="24.20" lengthAdjust="spacingAndGlyphs">Counts</text>
<text x="482.90" y="270.10" font-size="5.6" fill="#ff0000" stroke="#ff0000" stroke-width="0.1" textLength="33.70" lengthAdjust="spacingAndGlyphs"><tspan font-style="italic">k</tspan><tspan font-size="3.6" dy="1">1</tspan><tspan dy="-1"> = 1, </tspan><tspan font-style="italic">k</tspan><tspan font-size="3.6" dy="1">2</tspan><tspan dy="-1"> = 1.5</tspan></text>
<text x="481.00" y="322.90" font-size="5.6" fill="#0000ff" stroke="#0000ff" stroke-width="0.1" textLength="37.60" lengthAdjust="spacingAndGlyphs"><tspan font-style="italic">k</tspan><tspan font-size="3.6" dy="1">1</tspan><tspan dy="-1"> = 1.5, </tspan><tspan font-style="italic">k</tspan><tspan font-size="3.6" dy="1">2</tspan><tspan dy="-1"> = 0.5</tspan></text>
<ellipse cx="460.4" cy="285" rx="5.4" ry="24.1" fill="none" stroke="#9a3cb8" stroke-width="1.0" stroke-dasharray="3.8,1.4,1,1.4"/>
<text x="349.20" y="271.10" font-size="9.3" fill="#8a36a2" stroke="#8a36a2" stroke-width="0.1" textLength="61.90" lengthAdjust="spacingAndGlyphs">Angle histogram</text>
<line x1="416.60" y1="269.70" x2="452.00" y2="269.70" stroke="#8a36a2" stroke-width="1.5"/>
<polygon points="456.00,269.70 451.00,272.20 452.50,269.70 451.00,267.20" fill="#8a36a2"/>
<text x="344.00" y="295.90" font-size="9.3" fill="#8a36a2" stroke="#8a36a2" stroke-width="0.1" textLength="90.30" lengthAdjust="spacingAndGlyphs">Histogram largly spread</text>
<text x="346.30" y="304.20" font-size="9.3" fill="#8a36a2" stroke="#8a36a2" stroke-width="0.1" textLength="85.20" lengthAdjust="spacingAndGlyphs">around <tspan font-style="italic">θ</tspan> = 0. Indicate</text>
<text x="352.00" y="312.90" font-size="9.3" fill="#8a36a2" stroke="#8a36a2" stroke-width="0.1" textLength="74.00" lengthAdjust="spacingAndGlyphs">large overshoot and</text>
<text x="368.10" y="320.70" font-size="9.3" fill="#8a36a2" stroke="#8a36a2" stroke-width="0.1" textLength="37.80" lengthAdjust="spacingAndGlyphs">vibrations.</text>
<text x="375.00" y="352.90" font-size="9.3" fill="#ff0000" stroke="#ff0000" stroke-width="0.1" textLength="44.00" lengthAdjust="spacingAndGlyphs">PID control</text>
<text x="360.50" y="361.90" font-size="9.3" fill="#ff0000" stroke="#ff0000" stroke-width="0.1" textLength="69.40" lengthAdjust="spacingAndGlyphs">(<tspan font-style="italic">k</tspan><tspan font-size="6.5" dy="1.5">1</tspan><tspan dy="-1.5"> = 1, </tspan><tspan font-style="italic">k</tspan><tspan font-size="6.5" dy="1.5">2</tspan><tspan dy="-1.5"> = 1.5)</tspan></text>
<line x1="397.20" y1="365.50" x2="406.76" y2="386.75" stroke="#ff0000" stroke-width="1.5"/>
<polygon points="408.40,390.40 404.07,386.87 406.96,387.21 408.63,384.81" fill="#ff0000"/>
<text x="422.90" y="421.20" font-size="9.3" fill="#0000ff" stroke="#0000ff" stroke-width="0.1" textLength="124.50" lengthAdjust="spacingAndGlyphs">PID control (<tspan font-style="italic">k</tspan><tspan font-size="6.5" dy="1.5">1</tspan><tspan dy="-1.5"> = 1.5, </tspan><tspan font-style="italic">k</tspan><tspan font-size="6.5" dy="1.5">2</tspan><tspan dy="-1.5"> = 0.5)</tspan></text>
<line x1="419.8" y1="417.1" x2="404" y2="409.7" stroke="#0000ff" stroke-width="1.3" stroke-dasharray="3,1.5"/>
<line x1="404.50" y1="410.00" x2="403.86" y2="409.70" stroke="#0000ff" stroke-width="1.5"/>
<polygon points="400.70,408.20 405.84,407.87 403.41,409.48 403.70,412.39" fill="#0000ff"/></svg></body></html>
